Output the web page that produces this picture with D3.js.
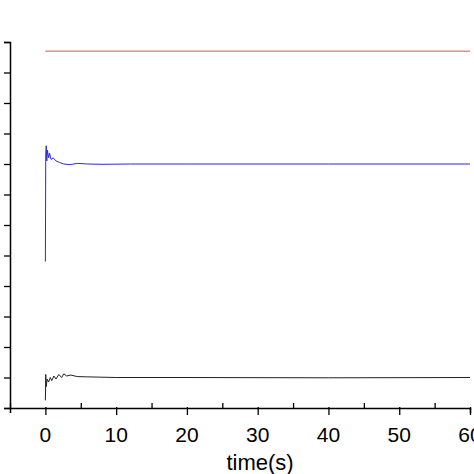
<!DOCTYPE html>
<html><head><meta charset="utf-8">
<script src="https://cdn.jsdelivr.net/npm/d3@7"></script>
<style>body{margin:0;background:#fff}</style>
</head><body>
<svg id="chart" width="474" height="474"></svg>
<script>
// values (time s, y in tick units)
const xTicks = [0, 10, 20, 30, 40, 50, 60];
const redLine = [[0, 11.7], [60, 11.7]];
const blueLine = [[0, 4.8], [0.05, 8.3], [0.12, 8.6], [0.2, 8.1], [0.3, 8.45], [0.45, 8.2], [0.6, 8.35],
  [0.8, 8.15], [1.1, 8.2], [1.5, 8.1], [2, 8.05], [2.6, 8.0], [3.5, 7.98], [4.5, 8.02], [6, 8.0],
  [8, 7.99], [12, 8.0], [20, 8.0], [40, 8.0], [60, 8.0]];
const blackLine = [[0, 0.25], [0.05, 1.1], [0.12, 0.7], [0.25, 0.95], [0.45, 0.85], [0.7, 1.0], [0.9, 0.9],
  [1.2, 1.05], [1.5, 0.95], [1.9, 1.1], [2.3, 1.0], [2.6, 1.12], [3, 1.05], [3.6, 1.08], [4.5, 1.03],
  [6, 1.02], [10, 1.0], [20, 1.0], [40, 0.99], [60, 1.0]];

const svg = d3.select("#chart");
const x = d3.scaleLinear().domain([-5, 60]).range([10, 470]);
const y = d3.scaleLinear().domain([0, 12]).range([408, 42]);

const line = d3.line().x(d => x(d[0])).y(d => y(d[1]));
svg.append("path").datum(redLine).attr("d", line).attr("fill", "none").attr("stroke", "#d9534f").attr("stroke-width", 1);
svg.append("path").datum(blueLine).attr("d", line).attr("fill", "none").attr("stroke", "#2b2bd0").attr("stroke-width", 1);
svg.append("path").datum(blackLine).attr("d", line).attr("fill", "none").attr("stroke", "#222").attr("stroke-width", 1);

// bottom axis
const gx = svg.append("g").attr("transform", "translate(0,408)");
gx.call(d3.axisBottom(x).tickValues(d3.range(-5, 61, 5)).tickSize(5).tickFormat(""));
gx.selectAll("text").remove();
gx.select(".domain").attr("stroke-width", 1.5);
gx.selectAll(".tick line").attr("stroke-width", 1.3)
  .attr("y1", d => d % 10 === 0 ? -1 : -5).attr("y2", d => d % 10 === 0 ? 7 : 0);
svg.selectAll(".xlab").data(xTicks).join("text")
  .attr("x", d => x(d)).attr("y", 442).attr("text-anchor", "middle")
  .attr("font-family", "Liberation Sans, Arial").attr("font-size", 21).text(d => d);
svg.append("text").attr("x", 260).attr("y", 470).attr("text-anchor", "middle")
  .attr("font-family", "Liberation Sans, Arial").attr("font-size", 22).text("time(s)");

// left axis
const gy = svg.append("g").attr("transform", "translate(10,0)");
gy.call(d3.axisLeft(y).ticks(12).tickSize(6).tickFormat(""));
gy.select(".domain").attr("stroke-width", 1.5);
gy.selectAll(".tick line").attr("stroke-width", 1.3);
</script>
</body></html>
